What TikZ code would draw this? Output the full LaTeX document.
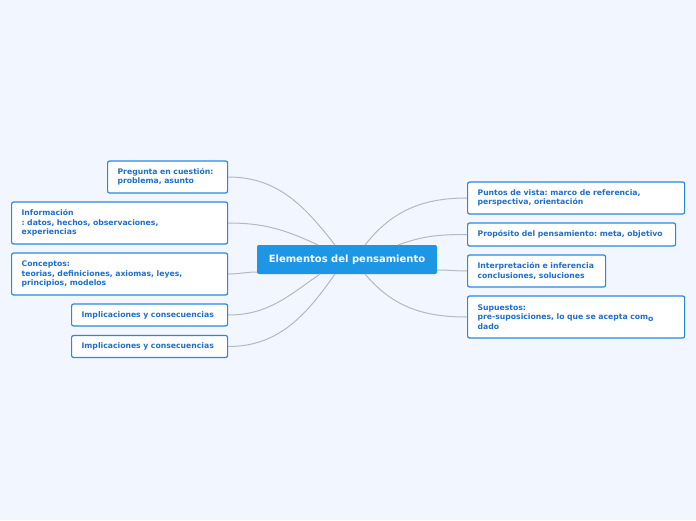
\documentclass[tikz,border=0pt]{standalone}
\usepackage{fontspec}
\setmainfont{DejaVu Sans}
\frenchspacing
\definecolor{fondo}{HTML}{F2F6FE}
\definecolor{azul}{HTML}{1E96E6}
\definecolor{borde}{HTML}{2A88E0}
\definecolor{testo}{HTML}{1F6FD0}
\definecolor{ramo}{HTML}{B4B8C4}
\begin{document}
\begin{tikzpicture}[x=1pt, y=-1pt,
		ramo/.style={draw=ramo, line width=1pt},
		foglia/.style={draw=borde, line width=1.2pt, fill=white, rounded corners=2pt,
			anchor=west, align=left, inner xsep=10pt, inner ysep=0pt,
			text=testo, font=\fontsize{7.7}{9.4}\selectfont\bfseries,
			execute at begin node={\hyphenpenalty=10000}}]
		% sfondo
		\fill[fondo] (0,0) rectangle (696,520);
		\useasboundingbox (0,0) rectangle (696,520);

		% centro
		\node[fill=azul, rounded corners=2pt, minimum width=180pt, minimum height=29pt, text=white,
			font=\fontsize{10}{12}\selectfont\bfseries] (centro) at (347,259.5) {Elementos del pensamiento};

		% sinistra
		\node[foglia, text width=100pt, minimum height=32pt] (pregunta) at (107,177) {Pregunta en cuestión:\\problema, asunto};
		\node[foglia, text width=196pt, minimum height=42pt] (informacion) at (11,223) {Información\\: datos, hechos, observaciones,\\experiencias};
		\node[foglia, text width=196pt, minimum height=42pt] (conceptos) at (11,274) {Conceptos:\\teorias, definiciones, axiomas, leyes,\\principios, modelos};
		\node[foglia, text width=136pt, minimum height=22pt] (implic1) at (71,315) {Implicaciones y consecuencias};
		\node[foglia, text width=136pt, minimum height=22pt] (implic2) at (71,346.5) {Implicaciones y consecuencias};

		% destra
		\node[foglia, text width=197pt, minimum height=32pt] (puntos) at (467,198) {Puntos de vista: marco de referencia,\\perspectiva, orientación};
		\node[foglia, text width=188pt, minimum height=23pt] (proposito) at (467,234.5) {Propósito del pensamiento: meta, objetivo};
		\node[foglia, text width=118pt, minimum height=32pt] (interpretacion) at (467,271) {Interpretación e inferencia\\conclusiones, soluciones};
		\node[foglia, text width=197pt, minimum height=42pt] (supuestos) at (467,317) {Supuestos:\\pre-suposiciones, lo que se acepta com\raisebox{-1.4pt}{o}\\dado};

		% rami
		\coordinate (n1) at (335,245);
		\coordinate (n2) at (318,245);
		\coordinate (n3) at (365,245);
		\coordinate (n4) at (398,245);
		\coordinate (s1) at (320,274);
		\coordinate (s2) at (335,274);
		\coordinate (s3) at (365,274);
		\coordinate (w1) at (257,272);
		\coordinate (e1) at (437,270);

		\draw[ramo] (pregunta.east) to[out=0, in=128] (n1);
		\draw[ramo] (informacion.east) to[out=0, in=155] (n2);
		\draw[ramo] (conceptos.east) to[out=0, in=180] (w1);
		\draw[ramo] (implic1.east) to[out=0, in=215] (s1);
		\draw[ramo] (implic2.east) to[out=0, in=235] (s2);

		\draw[ramo] (n3) to[out=52, in=180] (puntos.west);
		\draw[ramo] (n4) to[out=20, in=180] (proposito.west);
		\draw[ramo] (e1) to[out=0, in=180] (interpretacion.west);
		\draw[ramo] (s3) to[out=-50, in=180] (supuestos.west);
	\end{tikzpicture}
\end{document}
